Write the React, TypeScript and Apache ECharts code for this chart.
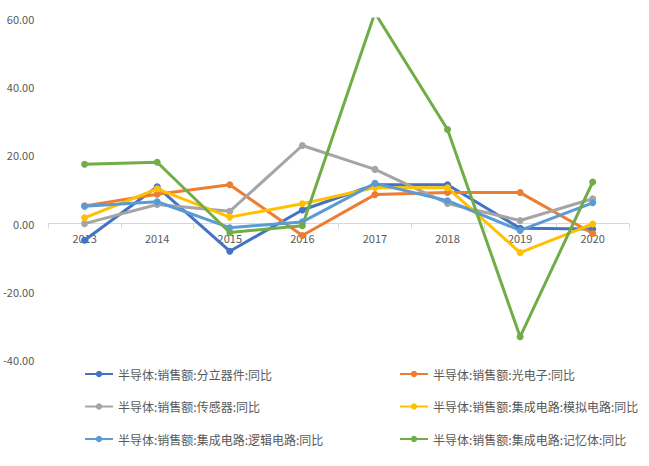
import React, { useEffect, useRef } from "react";
import * as echarts from "echarts";

const years = ["2013", "2014", "2015", "2016", "2017", "2018", "2019", "2020"];
const seriesNames = [
  "半导体:销售额:分立器件:同比",
  "半导体:销售额:光电子:同比",
  "半导体:销售额:传感器:同比",
  "半导体:销售额:集成电路:模拟电路:同比",
  "半导体:销售额:集成电路:逻辑电路:同比",
  "半导体:销售额:集成电路:记忆体:同比",
];
const discrete = [-4.9, 10.8, -8.1, 4.0, 11.4, 11.4, -1.4, -1.6];
const opto = [5.2, 8.6, 11.4, -3.5, 8.5, 9.1, 9.1, -2.9];
const sensor = [0.0, 5.6, 3.6, 22.9, 15.9, 5.9, 0.9, 7.3];
const analog = [1.7, 10.2, 1.9, 5.8, 10.6, 10.5, -8.5, -0.1];
const logic = [5.1, 6.4, -1.2, 0.5, 11.8, 6.7, -2.0, 6.1];
const memory = [17.4, 18.0, -2.6, -0.6, 61.8, 27.6, -33.2, 12.2];
const seriesData = [discrete, opto, sensor, analog, logic, memory];
const colors = ["#4472C4", "#ED7D31", "#A5A5A5", "#FFC000", "#5B9BD5", "#70AD47"];
const yTicks = [-40, -20, 0, 20, 40, 60];

export default function App() {
  const ref = useRef<HTMLDivElement>(null);
  useEffect(() => {
    if (!ref.current) return;
    const chart = echarts.init(ref.current, null, { renderer: "svg" });
    const font = "'Noto Sans CJK SC', 'Microsoft YaHei', sans-serif";
    const top = 19;
    const bottomPx = 360;
    const yMin = yTicks[0];
    const yMax = yTicks[yTicks.length - 1];
    const zeroOffset = -((bottomPx - top) * (0 - yMin)) / (yMax - yMin);
    const legendBase = {
      orient: "vertical",
      top: 363,
      itemGap: 20.5,
      itemWidth: 28,
      itemHeight: 8,
      textStyle: { fontSize: 12, color: "#595959", fontFamily: font },
    };
    chart.setOption({
      animation: false,
      color: colors,
      textStyle: { fontFamily: font },
      grid: { left: 47, right: 20, top, bottom: 466 - bottomPx, containLabel: false },
      legend: [
        { ...legendBase, left: 79, data: [seriesNames[0], seriesNames[2], seriesNames[4]] },
        { ...legendBase, left: 394, data: [seriesNames[1], seriesNames[3], seriesNames[5]] },
      ],
      xAxis: {
        type: "category",
        data: years,
        boundaryGap: true,
        position: "bottom",
        offset: zeroOffset,
        z: 0,
        axisLine: { onZero: false, lineStyle: { color: "#D9D9D9", width: 1 } },
        axisTick: { show: true, length: 5, lineStyle: { color: "#D9D9D9" } },
        axisLabel: { color: "#595959", fontSize: 11, margin: 9, fontFamily: font },
        splitLine: { show: false },
      },
      yAxis: {
        type: "value",
        min: yMin,
        max: yMax,
        interval: 20,
        axisLine: { show: false },
        axisTick: { show: false },
        splitLine: { show: false },
        axisLabel: {
          color: "#595959",
          fontSize: 11,
          margin: 14,
          fontFamily: font,
          formatter: (v: number) => v.toFixed(2),
        },
      },
      series: seriesNames.map((name, i) => ({
        name,
        type: "line",
        data: seriesData[i],
        symbol: "circle",
        symbolSize: 7,
        z: 3,
        lineStyle: { width: 3, color: colors[i] },
        itemStyle: { color: colors[i] },
      })),
    });
    return () => chart.dispose();
  }, []);
  return <div ref={ref} style={{ width: 649, height: 466, position: "absolute", left: 0, top: 0, background: "#fff" }} />;
}
